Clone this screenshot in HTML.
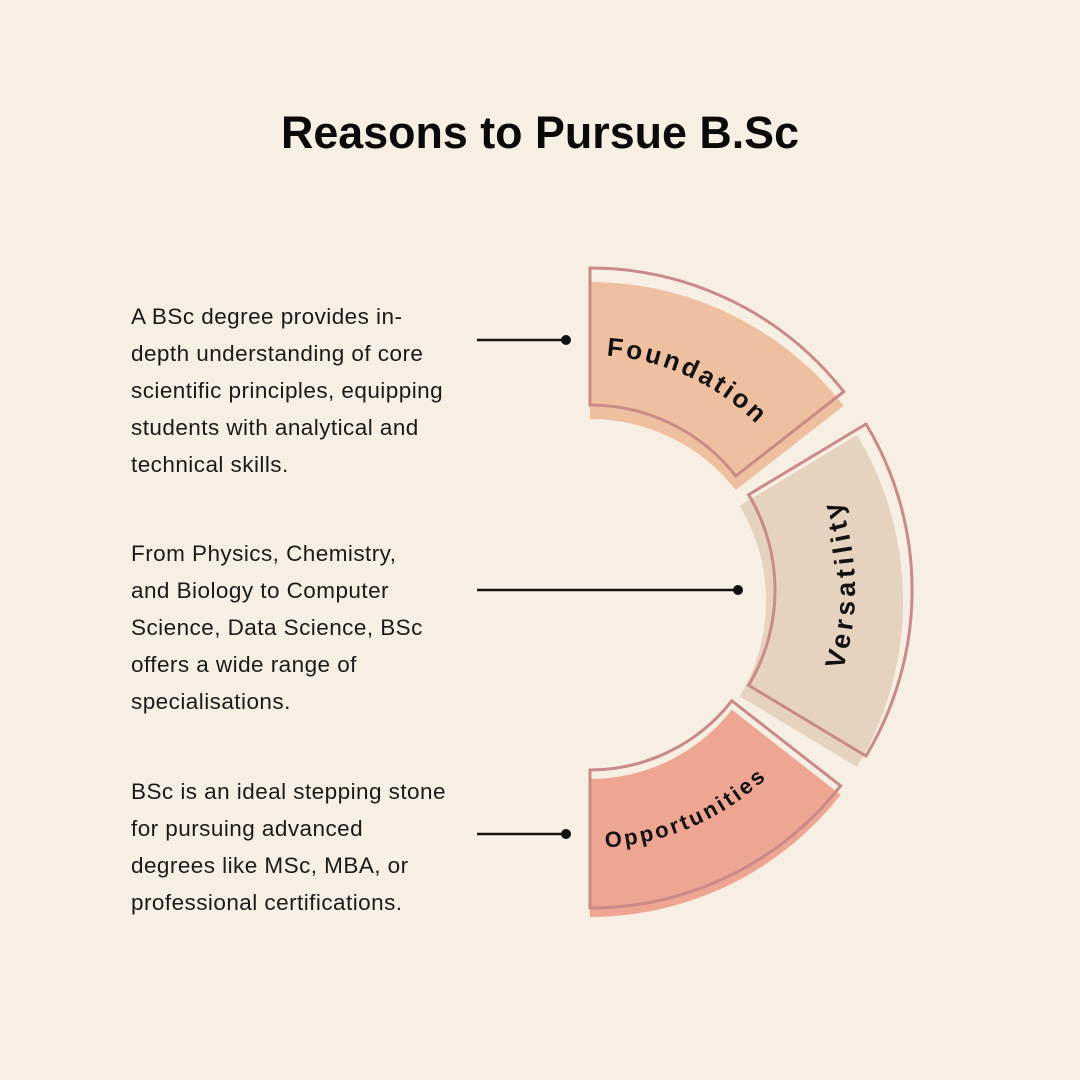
<!DOCTYPE html>
<html><head><meta charset="utf-8"><style>
html,body{margin:0;padding:0;background:#f8efe4;}
svg{display:block}
</style></head><body>
<svg width="1080" height="1080" viewBox="0 0 1080 1080" xmlns="http://www.w3.org/2000/svg">
<rect width="1080" height="1080" fill="#f8efe4"/>
<text x="540" y="148" text-anchor="middle" font-family="Liberation Sans, sans-serif" font-weight="bold" font-size="45" fill="#0a0a0a" textLength="518" lengthAdjust="spacingAndGlyphs">Reasons to Pursue B.Sc</text>

<g font-family="Liberation Sans, sans-serif" font-size="22.5" letter-spacing="0.45" fill="#1a1a1a">
<text x="131" y="324">A BSc degree provides in-</text>
<text x="131" y="361">depth understanding of core</text>
<text x="131" y="398">scientific principles, equipping</text>
<text x="131" y="435">students with analytical and</text>
<text x="131" y="472">technical skills.</text>
<text x="131" y="561">From Physics, Chemistry,</text>
<text x="131" y="598">and Biology to Computer</text>
<text x="131" y="635">Science, Data Science, BSc</text>
<text x="131" y="672">offers a wide range of</text>
<text x="131" y="709">specialisations.</text>
<text x="131" y="799">BSc is an ideal stepping stone</text>
<text x="131" y="836">for pursuing advanced</text>
<text x="131" y="873">degrees like MSc, MBA, or</text>
<text x="131" y="910">professional certifications.</text>
</g>

<g stroke="#111" stroke-width="2.5">
<line x1="477" y1="340" x2="566" y2="340"/>
<line x1="477" y1="590" x2="738" y2="590"/>
<line x1="477" y1="834" x2="566" y2="834"/>
</g>
<g fill="#111">
<circle cx="566" cy="340" r="5"/>
<circle cx="738" cy="590" r="5"/>
<circle cx="566" cy="834" r="5"/>
</g>

<!-- Foundation -->
<path transform="translate(0,14)" d="M590,268 A322,322 0 0 1 843.7,391.7 L735.8,476 A185,185 0 0 0 590,405 Z" fill="#efc0a0"/>
<path d="M590,268 A322,322 0 0 1 843.7,391.7 L735.8,476 A185,185 0 0 0 590,405 Z" fill="none" stroke="#c98a88" stroke-width="3"/>
<!-- Versatility -->
<path transform="translate(-9,11)" d="M866,424 A322,322 0 0 1 866,756 L748.6,685.3 A185,185 0 0 0 748.6,494.7 Z" fill="#e5d3bf"/>
<path d="M866,424 A322,322 0 0 1 866,756 L748.6,685.3 A185,185 0 0 0 748.6,494.7 Z" fill="none" stroke="#c98a88" stroke-width="3"/>
<!-- Opportunities -->
<path transform="translate(0,9)" d="M731.8,700.8 L840.6,785.8 A318,318 0 0 1 590,908 L590,770 A180,180 0 0 0 731.8,700.8 Z" fill="#eea592"/>
<path d="M731.8,700.8 L840.6,785.8 A318,318 0 0 1 590,908 L590,770 A180,180 0 0 0 731.8,700.8 Z" fill="none" stroke="#c98a88" stroke-width="3"/>

<defs>
<path id="pf" d="M606.4,355.6 A235,235 0 0 1 810.8,509.6"/>
<path id="pv" d="M830.2,702 A265,265 0 0 0 830.2,478"/>
<path id="po" d="M567.5,847 A258,258 0 0 0 813.4,719"/>
</defs>
<g font-family="Liberation Sans, sans-serif" font-weight="bold" fill="#111">
<text font-size="26"><textPath href="#pf" textLength="168" lengthAdjust="spacing">Foundation</textPath></text>
<text font-size="27"><textPath href="#pv" startOffset="34" textLength="172" lengthAdjust="spacing">Versatility</textPath></text>
<text font-size="22"><textPath href="#po" startOffset="38" textLength="178" lengthAdjust="spacing">Opportunities</textPath></text>
</g>
</svg>
</body></html>
